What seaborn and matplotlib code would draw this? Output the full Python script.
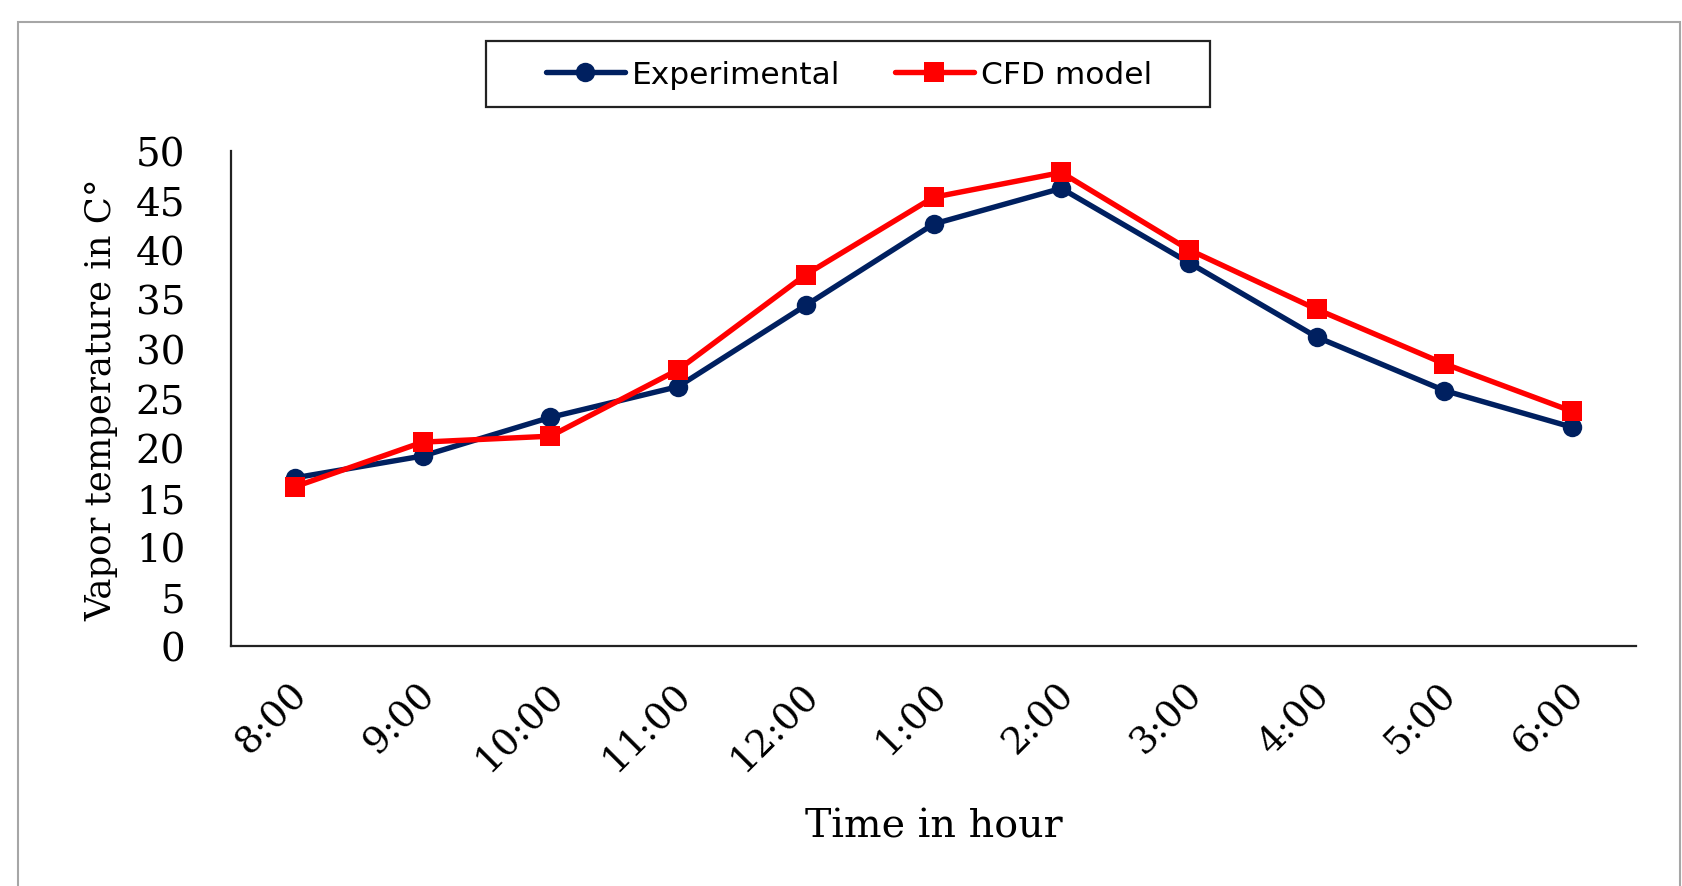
import pandas as pd
import matplotlib.pyplot as plt
import matplotlib.patches as patches
from matplotlib.transforms import ScaledTranslation
import seaborn as sns

# data
hours = ['8:00', '9:00', '10:00', '11:00', '12:00', '1:00',
         '2:00', '3:00', '4:00', '5:00', '6:00']
experimental = [17.0, 19.2, 23.1, 26.2, 34.4, 42.6, 46.2, 38.7, 31.2, 25.8, 22.1]
cfd_model = [16.1, 20.6, 21.2, 27.9, 37.5, 45.3, 47.8, 40.0, 34.0, 28.5, 23.7]
y_ticks = [0, 5, 10, 15, 20, 25, 30, 35, 40, 45, 50]

df = pd.DataFrame({'hour': hours, 'Experimental': experimental, 'CFD model': cfd_model})
df['pos'] = range(len(hours))

sns.set_style('white')
plt.rcParams['font.family'] = ['DejaVu Serif']
plt.rcParams['text.color'] = 'black'
plt.rcParams['axes.labelcolor'] = 'black'
plt.rcParams['xtick.color'] = 'black'
plt.rcParams['ytick.color'] = 'black'

fig = plt.figure(figsize=(16.83, 8.87), dpi=100)
ax = fig.add_axes([0.1373, 0.2702, 0.8348, 0.5588])

sns.lineplot(data=df, x='pos', y='Experimental', ax=ax, color='#002060',
             marker='o', markersize=14, markeredgewidth=0, linewidth=3.9,
             label='Experimental', legend=False)
sns.lineplot(data=df, x='pos', y='CFD model', ax=ax, color='#FF0000',
             marker='s', markersize=14, markeredgewidth=0, linewidth=3.9,
             label='CFD model', legend=False)

ax.set_xlim(-0.5, len(hours) - 0.5)
ax.set_ylim(0, 50)
ax.set_yticks(y_ticks)
ax.set_xticks(df['pos'])
ax.set_xticklabels(hours)

sns.despine(ax=ax)
for s in ['left', 'bottom']:
    ax.spines[s].set_color('#222222')
    ax.spines[s].set_linewidth(1.6)

ax.tick_params(axis='y', length=11, width=1.6, color='#222222', pad=22, labelsize=28)
ax.tick_params(axis='x', length=0, pad=30, labelsize=27)
plt.setp(ax.get_xticklabels(), rotation=45, ha='right', va='center', rotation_mode='anchor')
shift = ScaledTranslation(5 / 72, 0, fig.dpi_scale_trans)
for lbl in ax.get_xticklabels():
    lbl.set_transform(lbl.get_transform() + shift)

ax.set_xlabel('Time in hour', fontsize=28.5, va='baseline')
ax.xaxis.set_label_coords(0.5, -0.383)
ax.set_ylabel('Vapor temperature in C°', fontsize=25.5, va='center')
ax.yaxis.set_label_coords(-0.092, 0.5)

leg = fig.legend(loc='center', bbox_to_anchor=(0.5047, 0.9154), ncol=2,
                 frameon=False, handlelength=2.5, handletextpad=0.25,
                 columnspacing=1.75, borderaxespad=0,
                 prop={'family': 'DejaVu Sans', 'size': 22.5})

# legend box, wider than the entries like the original
fig.patches.append(patches.Rectangle((486 / 1683, 1 - 108 / 887), 724 / 1683, 66 / 887,
                                     transform=fig.transFigure, fill=False,
                                     edgecolor='#222222', linewidth=1.6))

# outer chart border
fig.patches.append(patches.Rectangle((0.0107, -0.1), 0.9875, 1.074, transform=fig.transFigure,
                                     fill=False, edgecolor='#a6a6a6', linewidth=1.5))

fig.savefig('out.png', dpi=100)
